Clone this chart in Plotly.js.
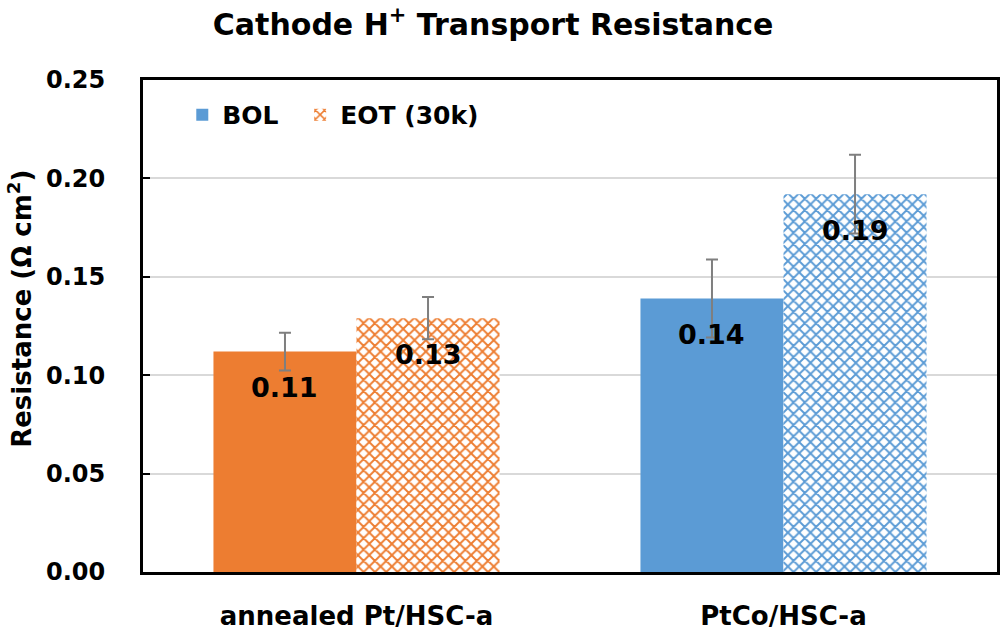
<!DOCTYPE html>
<html>
<head>
<meta charset="utf-8">
<script src="https://cdn.plot.ly/plotly-3.0.1.min.js"></script>
<style>
  html, body { margin: 0; padding: 0; background: #fff; }
  #chart { width: 1000px; height: 635px; }
</style>
</head>
<body>
<div id="chart"></div>
<script>
// Catalyst samples on the x axis
const categories = ['annealed Pt/HSC-a', 'PtCo/HSC-a'];

// Cathode proton transport resistance (Ω cm²) and its error
const bolValues = [0.112, 0.139];
const bolErrors = [0.0096, 0.0198];
const eotValues = [0.129, 0.192];
const eotErrors = [0.0107, 0.0200];

const seriesNames = ['BOL', 'EOT (30k)'];
const sampleColors = ['#ED7D31', '#5B9BD5'];
const yTitle = 'Resistance (Ω cm<sup>2</sup>)';

const FONT = 'DejaVu Sans, Arial, sans-serif';
const W = 1000, H = 635;
const margin = { l: 143, r: 3, t: 80, b: 63 };
const bargap = 0.33;

// each series keeps its own legend box so the two entries can be spaced freely
const series = [
  { name: seriesNames[0], values: bolValues, errors: bolErrors, group: 'bol', patterned: false, legendIndex: 1, legend: 'legend' },
  { name: seriesNames[1], values: eotValues, errors: eotErrors, group: 'eot', patterned: true, legendIndex: 0, legend: 'legend2' }
];

const traces = [];
series.forEach(s => {
  categories.forEach((cat, i) => {
    const color = sampleColors[i];
    const marker = { color: color, line: { width: 0 } };
    if (s.patterned) {
      marker.pattern = { shape: 'x', fgcolor: color, bgcolor: '#ffffff', size: 8, solidity: 0.42 };
    }
    traces.push({
      type: 'bar',
      x: [cat],
      y: [s.values[i]],
      name: s.name,
      offsetgroup: s.group,
      legend: s.legend,
      showlegend: i === s.legendIndex,
      marker: marker,
      error_y: { type: 'data', array: [s.errors[i]], visible: true, color: '#7f7f7f', thickness: 2, width: 6 },
      hoverinfo: 'x+y'
    });
  });
});

// Value labels, centred in each bar just below its top
const plotW = W - margin.l - margin.r;
const catW = plotW / categories.length;
const barW = catW * (1 - bargap) / series.length;
const annotations = [];
series.forEach((s, j) => {
  categories.forEach((cat, i) => {
    annotations.push({
      x: cat, y: s.values[i], xref: 'x', yref: 'y',
      text: s.values[i].toFixed(2),
      showarrow: false,
      xshift: (j - (series.length - 1) / 2) * barW,
      yshift: -36,
      yanchor: 'middle',
      font: { family: FONT, size: 27, color: '#000', weight: 'bold' }
    });
  });
});

// Vertical axis title, placed left of the tick labels
annotations.push({
  text: yTitle,
  textangle: -90,
  xref: 'paper', x: 0, xanchor: 'center', xshift: -123,
  yref: 'paper', y: 0.535, yanchor: 'middle',
  showarrow: false,
  font: { family: FONT, size: 26, color: '#000', weight: 'bold' }
});

const legendStyle = {
  orientation: 'h',
  xanchor: 'left',
  y: 0.929, yanchor: 'middle',
  bgcolor: 'rgba(0,0,0,0)',
  font: { family: FONT, size: 25, color: '#000', weight: 'bold' }
};

const layout = {
  width: W, height: H,
  margin: margin,
  paper_bgcolor: '#fff', plot_bgcolor: '#fff',
  barmode: 'group',
  bargap: bargap,
  bargroupgap: 0,
  font: { family: FONT, color: '#000' },
  title: {
    text: 'Cathode H<sup>+</sup> Transport Resistance',
    font: { family: FONT, size: 30, color: '#000', weight: 'bold' },
    xref: 'paper', x: 0.41, xanchor: 'center',
    yref: 'container', y: 0.962, yanchor: 'middle'
  },
  xaxis: {
    type: 'category',
    showline: true, mirror: true, linecolor: '#000', linewidth: 3,
    ticks: '', showgrid: false,
    ticklabelstandoff: 19,
    tickfont: { family: FONT, size: 26, color: '#000', weight: 'bold' }
  },
  yaxis: {
    range: [0, 0.25], dtick: 0.05, tickformat: '.2f',
    showline: true, mirror: true, linecolor: '#000', linewidth: 3,
    ticks: 'inside', ticklen: 7, tickwidth: 2, tickcolor: '#000',
    showgrid: true, gridcolor: '#d9d9d9', gridwidth: 2,
    zeroline: false,
    ticklabelstandoff: 30,
    tickfont: { family: FONT, size: 24, color: '#000', weight: 'bold' }
  },
  legend: Object.assign({ x: 0.046 }, legendStyle),
  legend2: Object.assign({ x: 0.184 }, legendStyle),
  annotations: annotations,
  showlegend: true
};

Plotly.newPlot('chart', traces, layout, { displayModeBar: false, staticPlot: true });
</script>
</body>
</html>
